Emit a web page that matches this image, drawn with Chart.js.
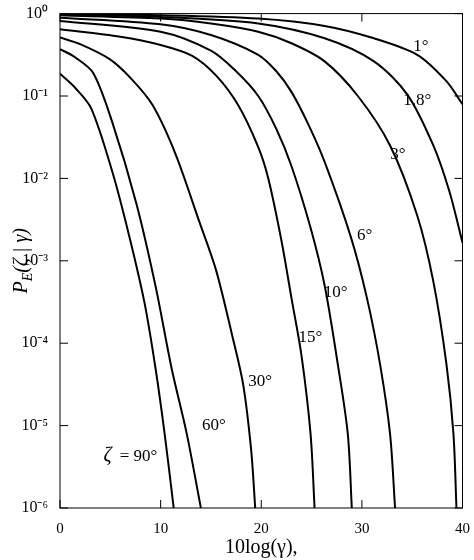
<!DOCTYPE html>
<html>
<head>
<meta charset="utf-8">
<script src="https://cdn.jsdelivr.net/npm/chart.js@4/dist/chart.umd.min.js"></script>
<style>
  body { margin: 0; background: #fff; }
  #wrap { width: 474px; height: 560px; }
</style>
</head>
<body>
<div id="wrap"><canvas id="chart"></canvas></div>
<script>
// x values (10log(gamma)) and log10 of P_E for each curve
const x90 = [0, 1.5, 3.1, 5.2, 6.9, 8.4, 9.5, 10.4, 11.3];
const y90 = [-0.73, -0.9, -1.15, -1.92, -2.71, -3.51, -4.31, -5.1, -6];
const x60 = [0, 1.5, 3.3, 5.2, 7.6, 9.5, 11.1, 12.6, 14.0];
const y60 = [-0.43, -0.53, -0.72, -1.32, -2.31, -3.31, -4.31, -5.1, -6];
const x30 = [0, 2, 4.9, 7, 9.2, 11.5, 13.8, 15.5, 17.1, 18.2, 19.0, 19.4];
const y30 = [-0.29, -0.37, -0.55, -0.78, -1.11, -1.71, -2.51, -3.11, -3.9, -4.5, -5.3, -6];
const x15 = [0, 6, 10, 13.1, 15.5, 17.7, 19.7, 20.7, 22.0, 23.0, 24.0, 24.9, 25.3];
const y15 = [-0.19, -0.28, -0.38, -0.51, -0.75, -1.11, -1.62, -2.0, -2.75, -3.45, -4.15, -5.1, -6];
const x10 = [0, 10, 15, 17.5, 19.7, 21.5, 23.0, 24.9, 26.3, 27.6, 28.6, 29.0];
const y10 = [-0.09, -0.22, -0.45, -0.7, -1.0, -1.4, -1.85, -2.6, -3.3, -4.25, -5.1, -6];
const x6 = [0, 10, 15, 19.7, 21.5, 23.0, 24.7, 26.3, 28.9, 30.5, 31.8, 32.8, 33.3];
const y6 = [-0.05, -0.13, -0.26, -0.5, -0.7, -0.95, -1.35, -1.8, -2.71, -3.45, -4.25, -5.1, -6];
const x3 = [0, 10, 15, 19.7, 23, 26.3, 29.6, 32.8, 35.5, 37.1, 38.4, 39.1, 39.4];
const y3 = [-0.02, -0.06, -0.12, -0.22, -0.36, -0.58, -1.0, -1.6, -2.45, -3.25, -4.25, -5.1, -6];
const x18 = [0, 10, 19.7, 26.3, 31.2, 34.5, 37.1, 38.7, 40];
const y18 = [-0.01, -0.04, -0.12, -0.3, -0.58, -0.98, -1.6, -2.16, -2.78];
const x1 = [0, 10, 19.7, 26.3, 31.2, 35.5, 38.4, 40];
const y1 = [-0.005, -0.02, -0.06, -0.15, -0.3, -0.5, -0.82, -1.1];

const seriesX = [x90, x60, x30, x15, x10, x6, x3, x18, x1];
const seriesY = [y90, y60, y30, y15, y10, y6, y3, y18, y1];
const curveNames = ['ζ = 90°', '60°', '30°', '15°', '10°', '6°', '3°', '1.8°', '1°'];
// label anchor positions (data units: x, log10 y)
const labelX = [7.9, 15.3, 19.9, 24.9, 27.4, 30.7, 34.0, 35.3, 36.3];
const labelY = [-5.37, -5.0, -4.47, -3.93, -3.39, -2.69, -1.71, -1.05, -0.40];

const xTicks = [0, 10, 20, 30, 40];
const yTickLabels = ['10⁰', '10⁻¹', '10⁻²', '10⁻³', '10⁻⁴', '10⁻⁵', '10⁻⁶'];

const FONT = '"Liberation Serif", serif';

const datasets = seriesX.map((xs, i) => ({
  label: curveNames[i],
  data: xs.map((v, j) => ({ x: v, y: Math.pow(10, seriesY[i][j]) })),
  showLine: true,
  borderColor: '#000',
  borderWidth: 2,
  pointRadius: 0,
  tension: 0.3
}));

const decorations = {
  id: 'decorations',
  afterDraw(chart) {
    const ctx = chart.ctx;
    const xs = chart.scales.x, ys = chart.scales.y;
    const a = chart.chartArea;
    ctx.save();
    ctx.strokeStyle = '#000';
    ctx.lineWidth = 1;
    ctx.strokeRect(a.left, a.top, a.right - a.left, a.bottom - a.top);
    // inward ticks
    ctx.beginPath();
    xTicks.forEach(v => {
      const p = xs.getPixelForValue(v);
      ctx.moveTo(p, a.bottom); ctx.lineTo(p, a.bottom - 8);
      ctx.moveTo(p, a.top); ctx.lineTo(p, a.top + 8);
    });
    for (let e = 0; e >= -6; e--) {
      const p = ys.getPixelForValue(Math.pow(10, e));
      ctx.moveTo(a.left, p); ctx.lineTo(a.left + 8, p);
      ctx.moveTo(a.right, p); ctx.lineTo(a.right - 8, p);
    }
    ctx.stroke();
    // curve labels
    ctx.fillStyle = '#000';
    ctx.font = '17px ' + FONT;
    ctx.textAlign = 'left';
    ctx.textBaseline = 'middle';
    curveNames.forEach((n, i) => {
      const px = xs.getPixelForValue(labelX[i]);
      const py = ys.getPixelForValue(Math.pow(10, labelY[i]));
      if (i === 0) {
        ctx.font = 'italic 20px ' + FONT;
        ctx.fillText('ζ', px - 36, py);
        ctx.font = '17px ' + FONT;
        ctx.fillText(n.slice(1), px - 24, py);
      } else {
        ctx.fillText(n, px - 12, py);
      }
    });
    // axis titles
    ctx.font = '20px ' + FONT;
    ctx.textAlign = 'center';
    ctx.fillText('10log(γ),', (a.left + a.right) / 2, 548);
    ctx.translate(22, (a.top + a.bottom) / 2);
    ctx.rotate(-Math.PI / 2);
    ctx.textAlign = 'left';
    ctx.font = 'italic 20px ' + FONT;
    const t1 = 'P', t2 = 'E', t3 = '(ζ | γ)';
    const w1 = ctx.measureText(t1).width;
    ctx.font = 'italic 14px ' + FONT;
    const w2 = ctx.measureText(t2).width;
    ctx.font = 'italic 20px ' + FONT;
    const w3 = ctx.measureText(t3).width;
    let sx = -(w1 + w2 + w3) / 2;
    ctx.fillText(t1, sx, 0);
    ctx.font = 'italic 14px ' + FONT;
    ctx.fillText(t2, sx + w1, 6);
    ctx.font = 'italic 20px ' + FONT;
    ctx.fillText(t3, sx + w1 + w2, 0);
    ctx.restore();
  }
};

new Chart(document.getElementById('chart'), {
  type: 'scatter',
  data: { datasets },
  options: {
    responsive: true,
    maintainAspectRatio: false,
    animation: false,
    layout: { padding: { top: 7, right: 6, left: 0, bottom: 0 } },
    plugins: { legend: { display: false }, tooltip: { enabled: false } },
    scales: {
      x: {
        type: 'linear', min: 0, max: 40,
        afterBuildTicks: s => { s.ticks = xTicks.map(v => ({ value: v })); },
        afterFit: s => { s.height = 52; },
        grid: { display: false },
        border: { display: false },
        ticks: { color: '#000', font: { family: FONT, size: 15 }, padding: 4 }
      },
      y: {
        type: 'logarithmic', min: 1e-6, max: 1,
        afterBuildTicks: s => {
          s.ticks = [0, -1, -2, -3, -4, -5, -6].map(e => ({ value: Math.pow(10, e) }));
        },
        afterFit: s => { s.width = 60; },
        grid: { display: false },
        border: { display: false },
        ticks: {
          color: '#000', font: { family: FONT, size: 16 }, padding: 4,
          callback: v => yTickLabels[Math.round(-Math.log10(v))]
        }
      }
    }
  },
  plugins: [decorations]
});
</script>
</body>
</html>
